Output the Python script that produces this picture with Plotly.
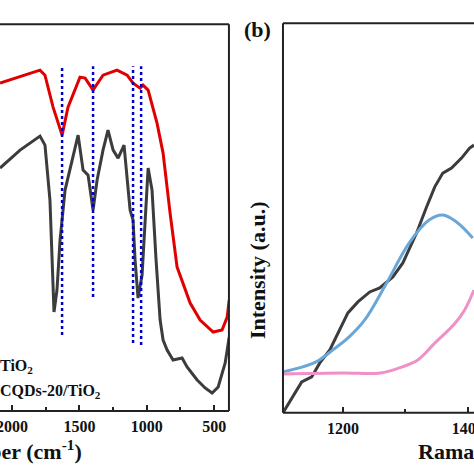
import plotly.graph_objects as go

# FTIR panel (a)
ftir_black_x = [2090, 1941, 1793, 1756, 1719, 1704, 1696, 1689, 1667, 1644, 1607, 1570, 1510, 1473,
                1436, 1399, 1369, 1325, 1288, 1250, 1213, 1169, 1139, 1124, 1102, 1087, 1065, 1035,
                990, 961, 931, 901, 879, 849, 805, 738, 701, 626, 567, 515, 470, 418, 388]
ftir_black_y = [243, 261, 275, 266, 211, 161, 121, 99, 121, 171, 221, 241, 276, 241, 236, 201, 231,
                261, 281, 261, 253, 266, 221, 201, 191, 151, 113, 136, 243, 221, 151, 91, 71, 61,
                51, 53, 44, 31, 23, 18, 24, 48, 74]
ftir_red_x = [2090, 1793, 1756, 1696, 1629, 1585, 1496, 1458, 1399, 1325, 1221, 1146, 1102, 1050,
              1028, 990, 924, 879, 827, 775, 678, 604, 507, 441, 403, 388]
ftir_red_y = [328, 341, 336, 304, 276, 304, 334, 333, 321, 336, 341, 336, 328, 323, 326, 321, 288,
              258, 198, 144, 108, 91, 79, 81, 94, 111]
peak_lines = [1629, 1399, 1102, 1042]
peak_bottoms = [76, 114, 68, 66]

# Raman panel (b)
raman_x = [1104, 1120, 1134, 1150, 1163, 1179, 1208, 1224, 1243, 1259, 1280, 1296, 1318, 1334,
           1347, 1360, 1374, 1390, 1403, 1410]
raman_y = [0, 16, 31, 36, 50, 63, 100, 111, 121, 125, 136, 150, 180, 206, 226, 240, 245, 255, 265, 268]
fit1_x = [1104, 1130, 1157, 1184, 1210, 1235, 1270, 1306, 1338, 1360, 1382, 1408]
fit1_y = [41, 45, 51, 63, 76, 93, 130, 170, 193, 198, 191, 175]
fit2_x = [1104, 1200, 1260, 1290, 1320, 1346, 1380, 1395, 1410]
fit2_y = [39, 40, 40, 45, 53, 69, 90, 103, 123]

font = "Liberation Serif"
fig = go.Figure()
fig.add_trace(go.Scatter(x=ftir_red_x, y=ftir_red_y, mode="lines",
                         line=dict(color="#e00000", width=3), xaxis="x", yaxis="y"))
fig.add_trace(go.Scatter(x=ftir_black_x, y=ftir_black_y, mode="lines",
                         line=dict(color="#3c3c3c", width=3), xaxis="x", yaxis="y"))
for w, b in zip(peak_lines, peak_bottoms):
    fig.add_trace(go.Scatter(x=[w, w], y=[b, 345], mode="lines",
                             line=dict(color="#0000cc", width=2.5, dash="dot"), xaxis="x", yaxis="y"))

fig.add_trace(go.Scatter(x=raman_x, y=raman_y, mode="lines",
                         line=dict(color="#3c3c3c", width=3), xaxis="x2", yaxis="y2"))
fig.add_trace(go.Scatter(x=fit1_x, y=fit1_y, mode="lines", line_shape="spline",
                         line=dict(color="#6aa6d8", width=3), xaxis="x2", yaxis="y2"))
fig.add_trace(go.Scatter(x=fit2_x, y=fit2_y, mode="lines", line_shape="spline",
                         line=dict(color="#f090c8", width=3), xaxis="x2", yaxis="y2"))

ax = dict(showgrid=False, zeroline=False, ticks="inside", ticklen=6, tickwidth=2,
          tickcolor="#222", tickfont=dict(family=font, size=16, color="#111", weight="bold"),
          minor=dict(ticks="inside", ticklen=4, tickwidth=2, tickcolor="#222"),
          ticklabeloverflow="allow", automargin=False)
fig.update_layout(
    width=474, height=474, showlegend=False, plot_bgcolor="white", paper_bgcolor="white",
    margin=dict(l=0, r=0, t=0, b=0),
    xaxis=dict(ax, domain=[0, 0.483], range=[2090, 390], tickvals=[2000, 1500, 1000, 500],
               minor_dtick=250, ticklabelstandoff=4),
    yaxis=dict(showgrid=False, zeroline=False, showticklabels=False, domain=[0.133, 0.949],
               range=[0, 387]),
    xaxis2=dict(ax, domain=[0.597, 1], range=[1104, 1410], anchor="y2",
                tickvals=[1200, 1400], minor_dtick=100, ticklabelstandoff=4),
    yaxis2=dict(showgrid=False, zeroline=False, showticklabels=False, domain=[0.129, 0.951],
                range=[0, 390], anchor="x2"),
)
# panel frames
frame = dict(color="#222", width=2)
for x0, x1, yb, yt in [(0, 0.483, 0.133, 0.949), (0.597, 1, 0.129, 0.951)]:
    fig.add_shape(type="line", xref="paper", yref="paper", x0=x0, x1=x1, y0=yt, y1=yt, line=frame)
    fig.add_shape(type="line", xref="paper", yref="paper", x0=x0, x1=x1, y0=yb, y1=yb, line=frame)
fig.add_shape(type="line", xref="paper", yref="paper", x0=0.483, x1=0.483, y0=0.133, y1=0.949,
              line=frame)
fig.add_shape(type="line", xref="paper", yref="paper", x0=0.597, x1=0.597, y0=0.129, y1=0.951,
              line=frame)

tf = dict(family=font, size=16, color="#111")
bf = dict(family=font, size=22, color="#111")
fig.add_annotation(text="<b>TiO<sub>2</sub></b>", x=-0.005, y=1 - 378 / 474, xref="paper", yref="paper",
                   xanchor="left", showarrow=False, font=tf)
fig.add_annotation(text="<b>CQDs-20/TiO<sub>2</sub></b>", x=-0.005, y=1 - 403 / 474, xref="paper",
                   yref="paper", xanchor="left", showarrow=False, font=tf)
fig.add_annotation(text="<b>Wavenumber (cm<sup>-1</sup>)</b>", x=84 / 474, y=1 - 466 / 474,
                   xref="paper", yref="paper", xanchor="right", showarrow=False, font=bf)
fig.add_annotation(text="<b>Raman shift (cm<sup>-1</sup>)</b>", x=416 / 474, y=1 - 466 / 474,
                   xref="paper", yref="paper", xanchor="left", showarrow=False, font=bf)
fig.add_annotation(text="<b>Intensity (a.u.)</b>", x=257 / 474, y=1 - 270 / 474, xref="paper",
                   yref="paper", textangle=-90, showarrow=False, font=bf)
fig.add_annotation(text="<b>(b)</b>", x=257 / 474, y=1 - 15 / 474, xref="paper", yref="paper",
                   showarrow=False, font=bf)

fig.write_html("out.html", config={"displayModeBar": False},
               post_script="document.body.style.margin='0';")
